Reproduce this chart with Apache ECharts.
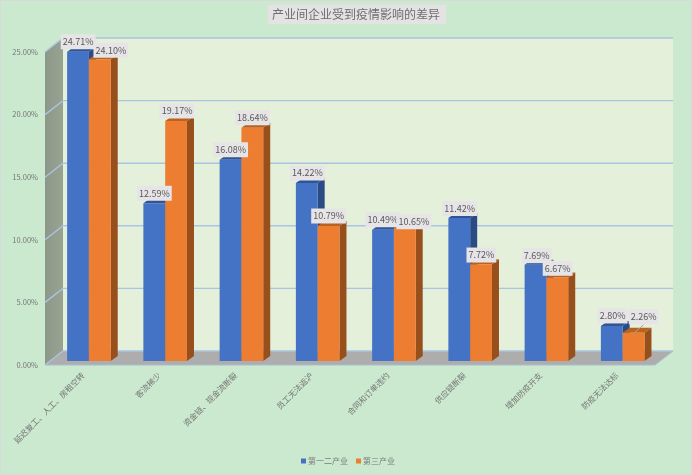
<!DOCTYPE html>
<html>
<head>
<meta charset="utf-8">
<style>
html,body{margin:0;padding:0;background:#cbe9ce;}
#wrap{position:relative;width:692px;height:475px;overflow:hidden;}
#chart{position:absolute;left:0;top:0;width:692px;height:475px;}
#edge{position:absolute;left:0;top:0;width:692px;height:475px;box-sizing:border-box;border:1px solid #d9d9d9;pointer-events:none;}
</style>
</head>
<body>
<div id="wrap"><div id="chart"></div><div id="edge"></div></div>
<script src="https://cdn.jsdelivr.net/npm/echarts@6/dist/echarts.min.js"></script>
<script>
const categories = ['延迟复工、人工、房租空转','客流稀少','资金链、现金流断裂','员工无法返沪','合同和订单违约','供应链断裂','增加防疫开支','防疫无法达标'];
const industry12 = [24.71,12.59,16.08,14.22,10.49,11.42,7.69,2.80];
const industry3 = [24.10,19.17,18.64,10.79,10.65,7.72,6.67,2.26];
const yTicks = [0,5,10,15,20,25];
const nameA = '第一二产业';
const nameB = '第三产业';
const titleText = '产业间企业受到疫情影响的差异';

const FONT = '"Noto Sans CJK SC","Noto Sans",sans-serif';
const WALL = {dx:18, dy:-14};
const BAR = {front:{dx:0,dy:-4}, depth:{dx:7,dy:-5}, width:21.8};
const labelNudge = {
  a:[[-5,-14],[-5,-14],[-5,-14],[-4.5,-14],[-5.3,-14],[-4.7,-13.5],[-4,-13],[-4.3,-14]],
  b:[[27.7,-13],[17.7,-14],[16.7,-14],[16.7,-14],[25.7,-10],[17,-13.3],[17,-13.2],[26.7,-20]]
};

function poly(pts, fill){
  return {type:'polygon', shape:{points:pts}, style:{fill:fill}, silent:true};
}
function barRender(startX, cFront, cTop, cSide){
  return function(params, api){
    const cat = api.value(0), val = api.value(1);
    const top = api.coord([cat,val]), base = api.coord([cat,0]);
    const x0 = top[0] + startX, x1 = x0 + BAR.width;
    const yT = top[1] + BAR.front.dy, yB = base[1] + BAR.front.dy;
    const dx = BAR.depth.dx, dy = BAR.depth.dy;
    return {type:'group', children:[
      poly([[x1,yT],[x1+dx,yT+dy],[x1+dx,yB+dy],[x1,yB]], cSide),
      poly([[x0,yT],[x0+dx,yT+dy],[x1+dx,yT+dy],[x1,yT]], cTop),
      poly([[x0,yT],[x1,yT],[x1,yB],[x0,yB]], cFront)
    ]};
  };
}
function wallsRender(params, api){
  const low = api.coord([0,yTicks[0]])[1];
  const high = api.coord([0,yTicks[yTicks.length-1]])[1];
  const L = params.coordSys.x, R = L + params.coordSys.width;
  const d = WALL;
  return {type:'group', children:[
    poly([[L+d.dx,high+d.dy],[R+d.dx,high+d.dy],[R+d.dx,low+d.dy],[L+d.dx,low+d.dy]], '#e4f0d9'),
    {type:'polygon', shape:{points:[[L,high],[L+d.dx,high+d.dy],[L+d.dx,low+d.dy],[L,low]]}, silent:true,
      style:{fill:new echarts.graphic.LinearGradient(0,0,1,0,[{offset:0,color:'#8d9788'},{offset:1,color:'#98a492'}])}},
    poly([[L,low],[R,low],[R+d.dx,low+d.dy],[L+d.dx,low+d.dy]], '#adadad'),
    {type:'line', shape:{x1:L,y1:low,x2:R,y2:low}, style:{stroke:'#a9bdd0',lineWidth:1}, silent:true},
    {type:'line', shape:{x1:R,y1:low,x2:R+d.dx,y2:low+d.dy}, style:{stroke:'#a9bdd0',lineWidth:1}, silent:true}
  ]};
}
function gridRender(params, api){
  const y = api.coord([0,api.value(0)])[1];
  const L = params.coordSys.x, R = L + params.coordSys.width, d = WALL;
  return {type:'polyline', silent:true,
    shape:{points:[[L,y],[L+d.dx,y+d.dy],[R+d.dx,y+d.dy]]},
    style:{fill:'none',stroke:'#a9c4e0',lineWidth:1.4}};
}
function labelRender(nudges){
  return function(params, api){
    const i = params.dataIndex, val = api.value(1);
    const p = api.coord([api.value(0),val]);
    const cx = p[0]+nudges[i][0], cy = p[1]+nudges[i][1];
    const kids = [];
    if (nudges[i][1] < -15){
      kids.push({type:'line', silent:true,
        shape:{x1:p[0]+17.5,y1:p[1]+BAR.front.dy,x2:cx,y2:cy+8},
        style:{stroke:'#a6a6a6',lineWidth:1}});
    }
    kids.push({type:'text', silent:true, style:{
      x:cx, y:cy, text:val.toFixed(2)+'%', align:'center', verticalAlign:'middle',
      font:'9px '+FONT, fill:'#595959', backgroundColor:'#e6e4e6', padding:[3,2,3,2]
    }});
    return {type:'group', children:kids};
  };
}

const chart = echarts.init(document.getElementById('chart'), null, {renderer:'canvas'});
const catIdx = categories.map((c,i)=>i);
chart.setOption({
  animation:false,
  backgroundColor:'#cbe9ce',
  title:{
    text:titleText, left:268, top:5,
    backgroundColor:'#e4e2e3', padding:[3,6,3,4],
    textStyle:{fontSize:12,fontWeight:'normal',color:'#6e6e6e',fontFamily:FONT,lineHeight:13}
  },
  legend:{
    data:[nameA,nameB], left:296, top:452, itemWidth:5, itemHeight:5, itemGap:8,
    icon:'rect', textStyle:{fontSize:8,color:'#7a7a7a',fontFamily:FONT,padding:[0,0,0,-3]}
  },
  grid:{left:45, top:52, width:610, height:313, containLabel:false},
  xAxis:{
    type:'category', data:categories, boundaryGap:true,
    axisLine:{show:false}, axisTick:{show:false}, splitLine:{show:false},
    axisLabel:{rotate:45, interval:0, margin:9, fontSize:8, color:'#767676', fontFamily:FONT}
  },
  yAxis:{
    type:'value', min:0, max:25, interval:5,
    axisLine:{show:false}, axisTick:{show:false}, splitLine:{show:false},
    axisLabel:{margin:7, fontSize:7.5, color:'#767676', fontFamily:FONT, formatter:v=>v.toFixed(2)+'%'}
  },
  series:[
    {type:'custom', name:'walls', renderItem:wallsRender, data:[[0]], encode:{y:0}, z:1, silent:true},
    {type:'custom', name:'grid', renderItem:gridRender, data:yTicks.map(v=>[v]), encode:{y:0}, z:2, silent:true},
    {type:'custom', name:nameA, itemStyle:{color:'#4472c4'}, z:3, silent:true,
     renderItem:barRender(-16,'#4472c4','#2f5597','#2b4b85'),
     data:catIdx.map(i=>[i,industry12[i]]), encode:{x:0,y:1}},
    {type:'custom', name:nameB, itemStyle:{color:'#ed7d31'}, z:4, silent:true,
     renderItem:barRender(5.8,'#ed7d31','#b9631f','#97501c'),
     data:catIdx.map(i=>[i,industry3[i]]), encode:{x:0,y:1}},
    {type:'custom', name:'labelsA', renderItem:labelRender(labelNudge.a), z:5, silent:true,
     data:catIdx.map(i=>[i,industry12[i]]), encode:{x:0,y:1}},
    {type:'custom', name:'labelsB', renderItem:labelRender(labelNudge.b), z:6, silent:true,
     data:catIdx.map(i=>[i,industry3[i]]), encode:{x:0,y:1}}
  ]
});
</script>
</body>
</html>
